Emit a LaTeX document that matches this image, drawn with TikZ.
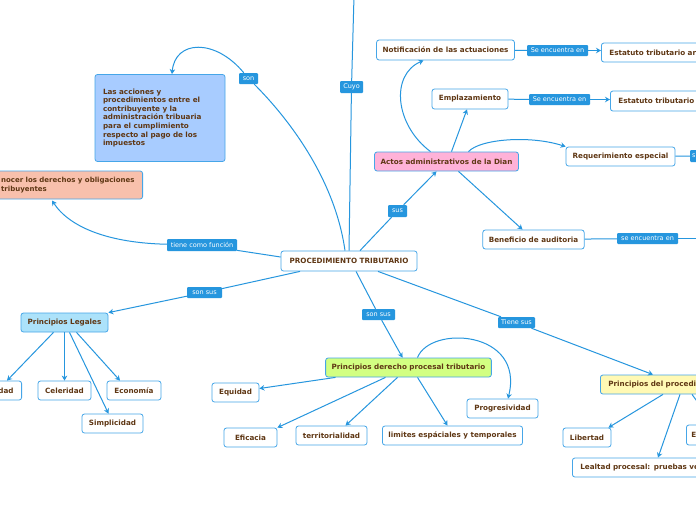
\documentclass[tikz,border=0pt]{standalone}
\usepackage{fontspec}
\setmainfont{DejaVu Sans}
\usepackage{tikz}
\usetikzlibrary{
  arrows.meta,
  calc,
  positioning
}
\definecolor{mmBlue}{RGB}{38,150,222}
\definecolor{mmEdge}{RGB}{70,166,232}
\definecolor{mmText}{RGB}{95,55,20}
\definecolor{fillIdea}{RGB}{168,204,255}
\definecolor{fillGoal}{RGB}{248,192,172}
\definecolor{fillLegal}{RGB}{172,226,250}
\definecolor{fillActs}{RGB}{255,178,216}
\definecolor{fillRight}{RGB}{210,255,130}
\definecolor{fillProc}{RGB}{255,249,180}
\tikzset{
  topic/.style={
    draw=mmEdge, line width=0.8pt, rounded corners=2.5pt, fill=white,
    text=mmText, font=\bfseries\fontsize{7.2}{8.6}\selectfont,
    inner xsep=6pt, inner ysep=0pt, minimum height=19pt
  },
  cut/.style={topic, anchor=west, inner xsep=8pt, align=left, text width=#1},
  tag/.style={
    fill=mmBlue, text=white, rounded corners=1pt,
    font=\fontsize{6.5}{7}\selectfont,
    inner xsep=2pt, inner ysep=0pt, minimum height=11pt
  },
  link/.style={draw=mmBlue, line width=1pt},
  arr/.style={link, -{Stealth[length=5pt, width=5.5pt]}},
}

\begin{document}
\begin{tikzpicture}[x=1pt, y=-1pt]
\useasboundingbox (0,0) rectangle (696,520);
\clip (0,0) rectangle (696,520);
\fill[white] (0,0) rectangle (696,520);

% --- centre and the two upper-left ideas ---
\node[topic, minimum width=136pt, minimum height=20pt] (proc) at (349,261) {PROCEDIMIENTO TRIBUTARIO};
\node[topic, fill=fillIdea, minimum width=130pt, minimum height=87pt,
      text width=114pt, inner xsep=8pt, align=left] (acciones) at (160,118)
  {Las acciones y\\ procedimientos entre el\\ contribuyente y la\\ administración tribuaria\\ para el cumplimiento\\ respecto al pago de los\\ impuestos};
\node[topic, fill=fillGoal, anchor=east, minimum height=28pt,
      inner xsep=8pt, align=left, font=\bfseries\fontsize{7}{8.4}\selectfont] (funcion) at (143,185)
  {nocer los derechos y obligaciones\\ tribuyentes};

\node[tag, minimum width=23pt, minimum height=12pt] (lblcuyo) at (351.5,87) {Cuyo};
\coordinate (cuyotop) at (354,-4);
\node[tag, minimum width=19pt] (lblson) at (248.5,78.5) {son};
\node[tag, minimum width=70pt, minimum height=12pt] (lblfun) at (202,245) {tiene como función};

\draw[link] (proc.north) -- (lblcuyo);
\draw[link] (lblcuyo) -- (cuyotop);
\draw[link] ([xshift=-4pt]proc.north) .. controls (335,180) and (290,120) .. (lblson);
\draw[arr] (lblson) .. controls (215,38) and (175,40) .. ([xshift=12pt]acciones.north);
\draw[link] ([yshift=4pt]proc.west) -- (lblfun);
\draw[arr] (lblfun) .. controls (110,243) and (70,228) .. (52,200.5);

% --- Principios Legales ---
\node[tag, minimum width=35pt] (lblsonsus1) at (204.5,292.5) {son sus};
\node[topic, fill=fillLegal, minimum width=87pt] (legales) at (64.5,322.5) {Principios Legales};
\node[topic, anchor=east, inner xsep=8pt] (legalidad) at (22,390.5) {dad};
\node[topic, minimum width=53pt] (celeridad) at (64.5,390.5) {Celeridad};
\node[topic, minimum width=54pt] (economia) at (134,390.5) {Economía};
\node[topic, minimum width=61pt] (simplicidad) at (112.5,423.5) {Simplicidad};

\draw[link] ([xshift=-49pt]proc.south) -- (lblsonsus1);
\draw[arr] (lblsonsus1) -- (legales.north east);
\draw[arr] ([xshift=-11pt]legales.south) -- ([xshift=-15pt]legalidad.north east);
\draw[arr] (legales.south) -- (celeridad.north);
\draw[arr] ([xshift=12pt]legales.south) -- ([xshift=-14pt]economia.north);
\draw[arr] ([xshift=5pt]legales.south) -- ([xshift=-4pt]simplicidad.north);

% --- Actos administrativos de la Dian ---
\node[tag, minimum width=19pt, minimum height=12pt] (lblsus) at (397.5,211) {sus};
\node[topic, fill=fillActs, minimum width=143pt] (actos) at (446.5,161.5) {Actos administrativos de la Dian};
\node[topic, minimum width=137pt, minimum height=20pt] (notif) at (445.5,50) {Notificación de las actuaciones};
\node[tag, minimum width=61pt] (lblnot) at (557.5,50.5) {Se encuentra en};
\node[cut=100pt] (estat1) at (601,52.5) {Estatuto tributario art};
\node[topic, minimum width=76pt, minimum height=20pt] (empl) at (470,99) {Emplazamiento};
\node[tag, minimum width=61pt] (lblemp) at (559.5,99.5) {Se encuentra en};
\node[cut=100pt, minimum height=20pt] (estat2) at (610,101) {Estatuto tributario a};
\node[topic, minimum width=109pt] (req) at (620.5,156.5) {Requerimiento especial};
\node[tag, anchor=west, minimum height=12pt] (lblreq) at (690,156) {s};
\node[topic, minimum width=101pt] (benef) at (533.5,239.5) {Beneficio de auditoria};
\node[tag, minimum width=61pt] (lblben) at (647.5,238.5) {se encuentra en};
\coordinate (benefend) at (704,238.5);

\draw[link] ([xshift=11pt]proc.north) -- (lblsus);
\draw[arr] (lblsus) -- ([xshift=-10pt]actos.south);
\draw[arr] ([xshift=-16pt]actos.north) .. controls (395,125) and (390,75) .. ([xshift=-22pt]notif.south);
\draw[arr] ([xshift=5pt]actos.north) -- ([xshift=-3pt]empl.south);
\draw[arr] ([xshift=22pt]actos.north) .. controls (480,139) and (530,135) .. (req.north west);
\draw[arr] ([xshift=12pt]actos.south) -- ([xshift=-11pt]benef.north);
\draw[link] (notif) -- (lblnot);
\draw[arr] (lblnot) -- (lblnot -| estat1.west);
\draw[link] (empl) -- (lblemp);
\draw[arr] (lblemp) -- (lblemp -| estat2.west);
\draw[link] (req) -- (lblreq);
\draw[link] (benef) -- (lblben);
\draw[link] (lblben) -- (benefend);

% --- Principios derecho procesal tributario ---
\node[tag, minimum width=33pt] (lblsonsus2) at (378.5,314.5) {son sus};
\node[topic, fill=fillRight, minimum width=163pt] (derecho) at (408.5,367.5) {Principios derecho procesal tributario};
\node[topic, minimum width=47pt] (equidad) at (235.5,392.5) {Equidad};
\node[topic, minimum width=53pt] (eficacia) at (250.5,437.5) {Eficacia};
\node[topic, minimum width=71pt] (territ) at (331.5,435.5) {territorialidad};
\node[topic, minimum width=139pt] (limites) at (452.5,435.5) {limites espáciales y temporales};
\node[topic, minimum width=71pt] (progres) at (502.5,408.5) {Progresividad};

\draw[link] ([xshift=7pt]proc.south) -- (lblsonsus2);
\draw[arr] (lblsonsus2) -- ([xshift=-6pt]derecho.north);
\draw[arr] ([xshift=-73pt]derecho.south) -- ([yshift=4pt]equidad.east);
\draw[arr] ([xshift=-23pt]derecho.south) -- (eficacia.north east);
\draw[arr] ([xshift=-11pt]derecho.south) -- ([xshift=14pt]territ.north);
\draw[arr] ([xshift=9pt]derecho.south) -- ([xshift=-5pt]limites.north);
\draw[arr] ([xshift=9pt]derecho.north) .. controls (430,325) and (525,330) .. ([xshift=5.5pt]progres.north);

% --- Principios del procedimiento ---
\node[tag, minimum width=37pt] (lbltiene) at (516.5,322.5) {Tiene sus};
\node[cut=110pt, fill=fillProc] (procedim) at (600,384.5) {Principios del procedim};
\node[topic, minimum width=48pt] (libertad) at (587,437.5) {Libertad};
\node[cut=140pt] (lealtad) at (572,467.5) {Lealtad procesal: pruebas ver};
\node[cut=20pt, inner xsep=5pt, minimum height=20pt] (ebox) at (686,435) {E};
\coordinate (eend) at (702,408);

\draw[link] ([xshift=29pt]proc.south) -- (lbltiene);
\draw[arr] (lbltiene) -- ([xshift=53pt]procedim.north west);
\draw[arr] ([xshift=63pt]procedim.south west) -- ([xshift=-3pt]libertad.north east);
\draw[arr] ([xshift=80pt]procedim.south west) -- ([xshift=86pt]lealtad.north west);
\draw[link] ([xshift=92pt]procedim.south west) -- (eend);
\end{tikzpicture}
\end{document}
